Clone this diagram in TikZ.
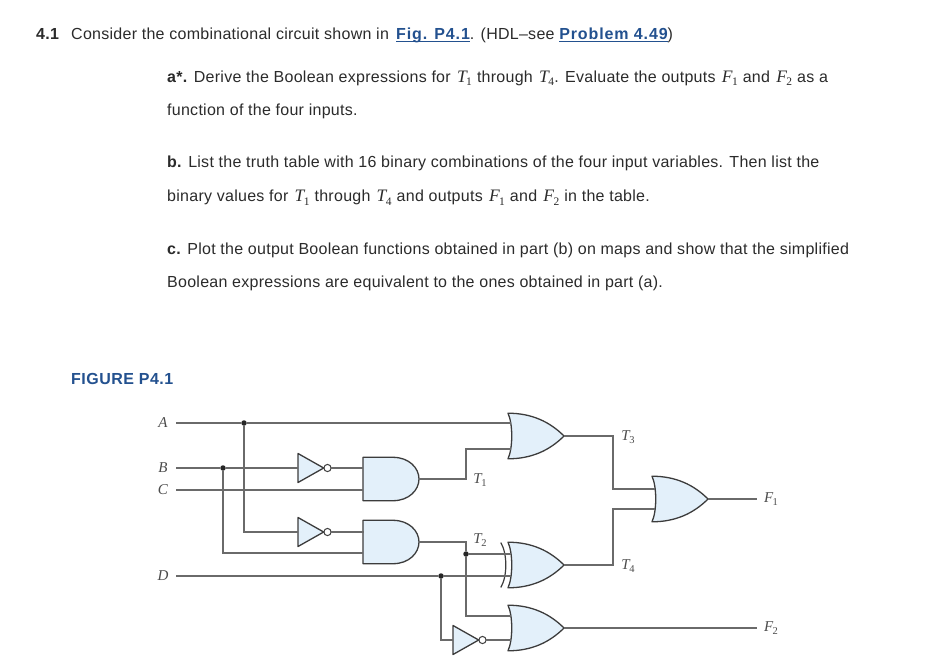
\documentclass[tikz,border=0pt]{standalone}
\usepackage{fontspec}
\setmainfont[LetterSpace=1.7]{Liberation Sans}
\newfontfamily\timesf{Liberation Serif}
\usetikzlibrary{positioning}

\definecolor{linkblue}{HTML}{23518F}
\definecolor{gatefill}{HTML}{E3F0FA}
\definecolor{wirecol}{HTML}{6A6A6A}
\definecolor{gateline}{HTML}{3C3C3C}
\definecolor{textcol}{HTML}{2B2B2B}

\newcommand{\varsub}[2]{{\timesf\itshape #1\kern-0.5pt\raisebox{-0.22em}{\upshape\fontsize{10.5}{12}\selectfont #2}}}
\newcommand{\varpara}[2]{\kern1.5pt{\timesf\fontsize{17.5}{18}\selectfont\itshape #1\kern-0.5pt\raisebox{-0.22em}{\upshape\fontsize{11.5}{12}\selectfont #2}}\kern0.3pt\relax}
\newcommand{\linktext}[1]{\textcolor{linkblue}{\underline{\smash{\bfseries\addfontfeature{LetterSpace=5.5}#1}}}}

\tikzset{
  gate/.style={draw=gateline, fill=gatefill, line width=1.3pt, line join=round},
  wire/.style={draw=wirecol, line width=1.4pt},
  dot/.style={circle, fill=black!85, inner sep=0pt, minimum size=5.5pt},
  para/.style={anchor=base west, inner sep=0pt, text=textcol, font=\fontsize{16}{18}\selectfont},
  inlabel/.style={minimum width=26pt, inner sep=0pt, text=black!70, font=\timesf\itshape\fontsize{15}{17}\selectfont},
  outlabel/.style={minimum width=28pt, inner sep=0pt, text=black!70, font=\fontsize{15}{17}\selectfont},
  tlabel/.style={inner sep=0pt, text=black!70, font=\fontsize{15}{17}\selectfont},
  pics/orgate/.style={code={
    \path[gate] (0,-22.8) .. controls (24,-22.8) and (42,-14) .. (56,0)
      .. controls (42,14) and (24,22.8) .. (0,22.8)
      .. controls (5,12) and (5,-12) .. (0,-22.8) -- cycle;
    \coordinate (-a) at (3,-#1);
    \coordinate (-b) at (3,#1);
    \coordinate (-out) at (56,0);
  }},
  pics/andgate/.style={code={
    \path[gate] (0,-21.7) -- (30,-21.7) .. controls (46,-21.7) and (56,-11) .. (56,0)
      .. controls (56,11) and (46,21.7) .. (30,21.7) -- (0,21.7) -- cycle;
    \coordinate (-a) at (0,-11);
    \coordinate (-b) at (0,11);
    \coordinate (-out) at (56,0);
  }},
  pics/notgate/.style={code={
    \path[gate] (0,-14.5) -- (25.7,0) -- (0,14.5) -- cycle;
    \path[draw=gateline, fill=white, line width=1pt] (29.5,0) circle (3.6);
    \coordinate (-in) at (0,0);
    \coordinate (-out) at (33,0);
  }}
}

\begin{document}
\begin{tikzpicture}[x=1pt, y=-1pt]
  \useasboundingbox (0,0) rectangle (938,665);
  \fill[white] (0,0) rectangle (938,665);

  % problem text
  \node[para] (num) at (36,39.5) {\textbf{4.1}};
  \node[para] (intro) at (71,39.5) {Consider the combinational circuit shown in \kern2.5pt\linktext{Fig. P4.1}. (HDL–see \linktext{Problem 4.49})};
  \node[para] (parta) at (167,82) {\textbf{a*.} Derive the Boolean expressions for \varpara{T}{1} through \varpara{T}{4}. Evaluate the outputs \varpara{F}{1} and \varpara{F}{2} as a};
  \node[para] (partaa) at (167,115) {function of the four inputs.};
  \node[para] (partb) at (167,167.5) {\textbf{b.} List the truth table with 16 binary combinations of the four input variables. Then list the};
  \node[para] (partbb) at (167,201.5) {binary values for \varpara{T}{1} through \varpara{T}{4} and outputs \varpara{F}{1} and \varpara{F}{2} in the table.};
  \node[para] (partc) at (167,254.5) {\textbf{c.} Plot the output Boolean functions obtained in part (b) on maps and show that the simplified};
  \node[para] (partcc) at (167,287.5) {Boolean expressions are equivalent to the ones obtained in part (a).};
  \node[para] (figtitle) at (71,384.5) {\textcolor{linkblue}{\bfseries\addfontfeature{LetterSpace=3}FIGURE P4.1}};

  % inputs
  \node[inlabel] (A) at (163,423) {A};
  \node[inlabel] (B) at (163,468) {B};
  \node[inlabel] (C) at (163,490) {C};
  \node[inlabel] (D) at (163,576) {D};

  % gates
  \pic (inv1) at (298,468) {notgate};
  \pic (inv2) at (298,532) {notgate};
  \pic (inv3) at (453,640) {notgate};
  \pic (and1) at (363,479) {andgate};
  \pic (and2) at (363,542) {andgate};
  \pic (or1) at (508,436) {orgate={13}};
  \pic (orx) at (508,565) {orgate={11}};
  \pic (orb) at (508,628) {orgate={12}};
  \pic (orf) at (652,499) {orgate={10}};
  \draw[draw=gateline, line width=1.2pt] (500.8,542.5) .. controls (507.5,554) and (507.5,576) .. (500.8,587.5);

  % junctions and bends
  \node[dot] (ja) at (244,423) {};
  \node[dot] (jb) at (223,468) {};
  \node[dot] (jd) at (441,576) {};
  \node[dot] (jt) at (466,554) {};
  \coordinate (k1) at (466,479);
  \coordinate (k3) at (613,436);
  \coordinate (k4) at (613,565);

  % wires
  \draw[wire] (A) -- (ja) -- (or1-a);
  \draw[wire] (ja) |- (inv2-in);
  \draw[wire] (B) -- (jb) -- (inv1-in);
  \draw[wire] (jb) |- (and2-b);
  \draw[wire] (C) -- (and1-b);
  \draw[wire] (D) -- (jd) -- (orx-b);
  \draw[wire] (jd) |- (inv3-in);
  \draw[wire] (inv1-out) -- (and1-a);
  \draw[wire] (inv2-out) -| (and2-a);
  \draw[wire] (inv3-out) -- (orb-b);
  \draw[wire] (and1-out) -- (k1) |- (or1-b);
  \draw[wire] (and2-out) -| (jt);
  \draw[wire] (jt) -- (orx-a);
  \draw[wire] (jt) |- (orb-a);
  \draw[wire] (or1-out) -- (k3) |- (orf-a);
  \draw[wire] (orx-out) -- (k4) |- (orf-b);

  % outputs
  \node[outlabel] (F1) at (771,499) {\varsub{F}{1}};
  \node[outlabel] (F2) at (771,628) {\varsub{F}{2}};
  \draw[wire] (orf-out) -- (F1);
  \draw[wire] (orb-out) -- (F2);

  \node[tlabel] (T1) at (480,480) {\varsub{T}{1}};
  \node[tlabel] (T2) at (480,540) {\varsub{T}{2}};
  \node[tlabel] (T3) at (628,437) {\varsub{T}{3}};
  \node[tlabel] (T4) at (628,566) {\varsub{T}{4}};
\end{tikzpicture}
\end{document}
